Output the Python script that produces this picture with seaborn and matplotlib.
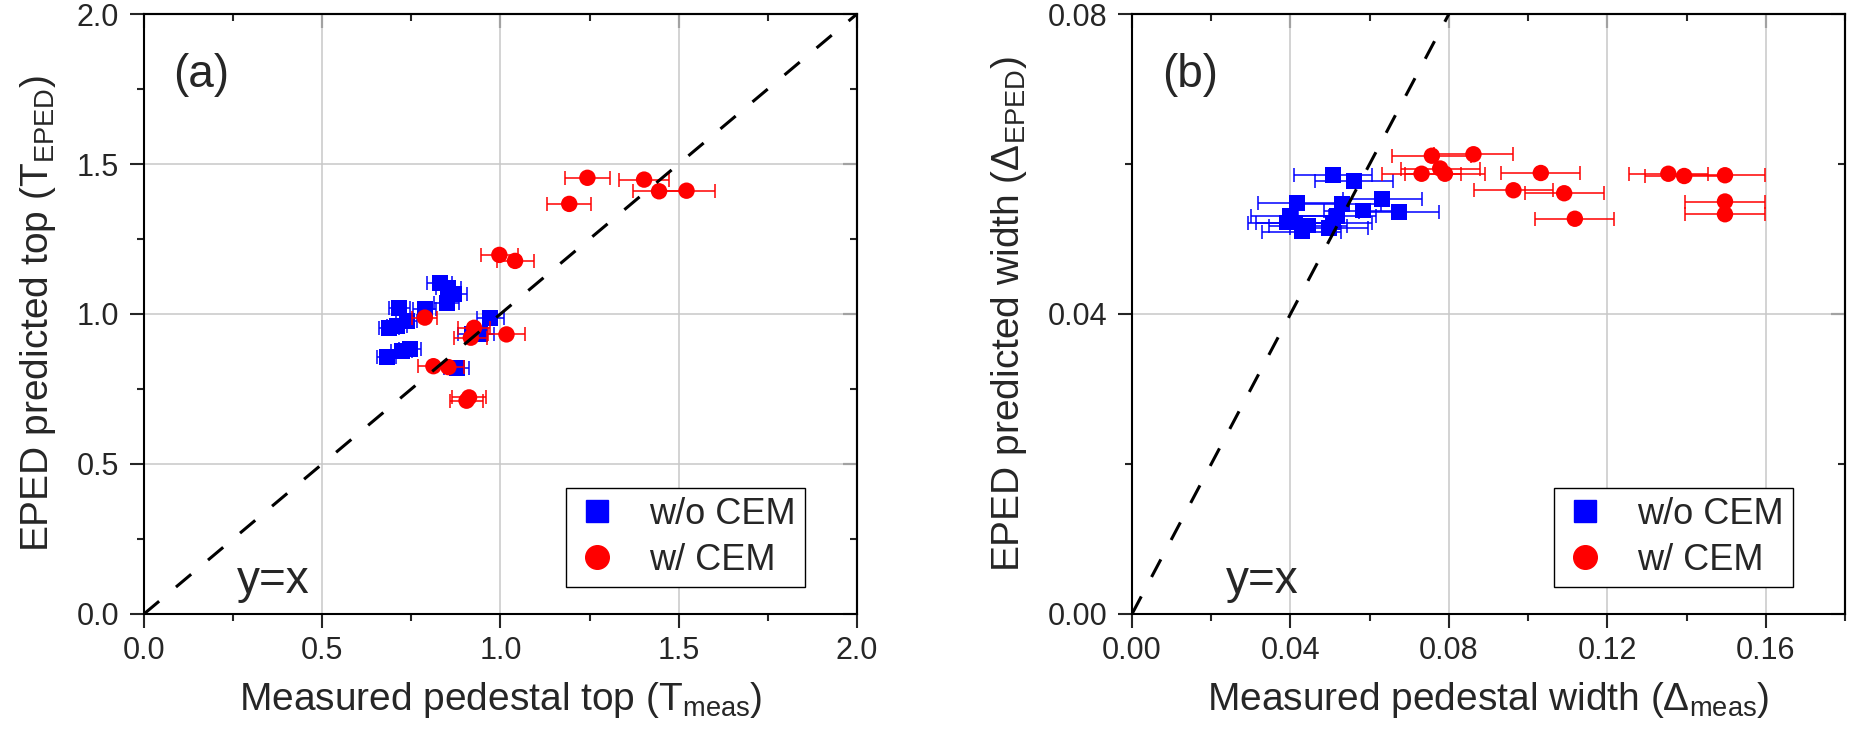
import numpy as np
import pandas as pd
import matplotlib
matplotlib.use("Agg")
import matplotlib.pyplot as plt
import seaborn as sns
from matplotlib.lines import Line2D
from matplotlib.ticker import MultipleLocator, NullFormatter, FormatStrFormatter

# ---------------- data ----------------
# Panel (a): pedestal top
a_wo_x = [0.830, 0.854, 0.870, 0.849, 0.788, 0.716, 0.737, 0.688, 0.709, 0.681, 0.723, 0.746, 0.877, 0.972, 0.919, 0.943]
a_wo_y = [1.103, 1.088, 1.066, 1.038, 1.016, 1.019, 0.977, 0.954, 0.960, 0.856, 0.876, 0.882, 0.820, 0.988, 0.932, 0.932]
a_wo_xerr = [0.035, 0.035, 0.035, 0.034, 0.032, 0.029, 0.030, 0.028, 0.028, 0.027, 0.029, 0.030, 0.035, 0.039, 0.037, 0.038]

a_w_x = [1.244, 1.403, 1.445, 1.522, 1.193, 0.997, 1.041, 0.788, 0.926, 0.917, 1.017, 0.812, 0.854, 0.905, 0.912]
a_w_y = [1.454, 1.448, 1.409, 1.411, 1.367, 1.197, 1.177, 0.988, 0.954, 0.921, 0.932, 0.826, 0.823, 0.711, 0.722]
a_w_xerr = [0.062, 0.070, 0.072, 0.080, 0.061, 0.052, 0.052, 0.035, 0.046, 0.046, 0.052, 0.042, 0.044, 0.047, 0.047]

# Panel (b): pedestal width
b_wo_x = [0.0508, 0.0560, 0.0632, 0.0584, 0.0674, 0.0416, 0.0529, 0.0399, 0.0412, 0.0445, 0.0428, 0.0517, 0.0498, 0.0391, 0.0507]
b_wo_y = [0.0585, 0.0577, 0.0553, 0.0538, 0.0536, 0.0548, 0.0547, 0.0531, 0.0522, 0.0518, 0.0510, 0.0531, 0.0515, 0.0522, 0.0522]
b_wo_xerr = [0.0099, 0.0099, 0.0100, 0.0100, 0.0100, 0.0099, 0.0099, 0.0099, 0.0099, 0.0099, 0.0099, 0.0099, 0.0099, 0.0099, 0.0099]

b_w_x = [0.0757, 0.0862, 0.0731, 0.0778, 0.0790, 0.1032, 0.0963, 0.1091, 0.1118, 0.1354, 0.1394, 0.1497, 0.1497, 0.1497]
b_w_y = [0.0611, 0.0613, 0.0587, 0.0594, 0.0587, 0.0588, 0.0565, 0.0561, 0.0527, 0.0587, 0.0584, 0.0585, 0.0550, 0.0533]
b_w_xerr = [0.0100, 0.0100, 0.0100, 0.0100, 0.0100, 0.0100, 0.0100, 0.0100, 0.0100, 0.0100, 0.0100, 0.0100, 0.0100, 0.0100]

legend_labels = ["w/o CEM", "w/ CEM"]
panel_tags = ["(a)", "(b)"]
a_xlabel = "Measured pedestal top (T$_{\\mathregular{meas}}$)"
a_ylabel = "EPED predicted top (T$_{\\mathregular{EPED}}$)"
b_xlabel = "Measured pedestal width (\u0394$_{\\mathregular{meas}}$)"
b_ylabel = "EPED predicted width (\u0394$_{\\mathregular{EPED}}$)"

# ---------------- style ----------------
sns.set_style("white")
plt.rcParams['font.family'] = ['Liberation Sans', 'DejaVu Sans']
plt.rcParams['mathtext.fontset'] = 'custom'
plt.rcParams['mathtext.rm'] = 'Liberation Sans'
plt.rcParams['mathtext.it'] = 'Liberation Sans'
plt.rcParams['mathtext.bf'] = 'Liberation Sans'

BLUE = "#0000FF"
RED = "#FF0000"

fig = plt.figure(figsize=(18.5, 7.41), dpi=100)
ax_a = fig.add_axes([0.0778, 0.1714, 0.3854, 0.8097])
ax_b = fig.add_axes([0.6119, 0.1714, 0.3854, 0.8097])


def draw_panel(ax, wo_x, wo_y, wo_err, w_x, w_y, w_err, lim, major, minor,
               xlabel, ylabel, tag, fmt):
    ax.errorbar(wo_x, wo_y, xerr=wo_err, fmt='none', ecolor=BLUE,
                elinewidth=1.1, capsize=4.7, capthick=1.1, zorder=2)
    sns.scatterplot(x=wo_x, y=wo_y, marker='s', color=BLUE, s=11.5 ** 2,
                    edgecolor='none', linewidth=0, ax=ax, zorder=3, legend=False)
    ax.errorbar(w_x, w_y, xerr=w_err, fmt='none', ecolor=RED,
                elinewidth=1.1, capsize=4.7, capthick=1.1, zorder=4)
    sns.scatterplot(x=w_x, y=w_y, marker='o', color=RED, s=11.8 ** 2,
                    edgecolor='none', linewidth=0, ax=ax, zorder=5, legend=False)

    ax.axline((0, 0), slope=1, color='black', linewidth=2.2,
              dashes=(6.5, 7.2), zorder=6)

    ax.set_xlim(lim)
    ax.set_ylim(lim)
    for axis in (ax.xaxis, ax.yaxis):
        axis.set_major_locator(MultipleLocator(major))
        axis.set_minor_locator(MultipleLocator(minor))
        axis.set_major_formatter(FormatStrFormatter(fmt))
    ax.grid(True, which='major', color='#c8c8c8', linewidth=1.1, zorder=0)
    ax.set_axisbelow(True)

    ax.tick_params(which='major', direction='out', length=10, width=1.5,
                   labelsize=22, bottom=True, left=True, top=False, right=False)
    ax.tick_params(axis='x', which='major', pad=6)
    ax.tick_params(axis='y', which='major', pad=8)
    ax.tick_params(which='minor', direction='out', length=5, width=1.5,
                   bottom=True, left=True, top=False, right=False)
    for sp in ax.spines.values():
        sp.set_linewidth(1.5)
        sp.set_color('black')
        sp.set_visible(True)

    secx = ax.secondary_xaxis('top')
    secy = ax.secondary_yaxis('right')
    for sec, axis in ((secx, secx.xaxis), (secy, secy.yaxis)):
        axis.set_major_locator(MultipleLocator(major))
        axis.set_minor_locator(MultipleLocator(minor))
        axis.set_major_formatter(NullFormatter())
        sec.tick_params(which='major', direction='in', length=10, width=1.5)
        sec.tick_params(which='minor', direction='in', length=5, width=1.5)
        for sp in sec.spines.values():
            sp.set_linewidth(1.5)

    ax.set_xlabel(xlabel, fontsize=28, labelpad=10)
    ax.set_ylabel(ylabel, fontsize=28, labelpad=13)

    ax.text(0.081, 0.898, tag, transform=ax.transAxes, fontsize=33,
            ha='center', va='center')
    ax.text(0.182, 0.055, "y=x", transform=ax.transAxes, fontsize=33,
            ha='center', va='center')

    handles = [
        Line2D([], [], marker='s', color=BLUE, linestyle='none', markersize=16),
        Line2D([], [], marker='o', color=RED, linestyle='none', markersize=17),
    ]
    leg = ax.legend(handles, legend_labels, loc='lower right',
                    bbox_to_anchor=(0.927, 0.045), fontsize=26, frameon=True,
                    fancybox=False, edgecolor='black', framealpha=1,
                    borderpad=0.25, handlelength=1.2, handletextpad=0.85,
                    labelspacing=0.3, borderaxespad=0)
    leg.get_frame().set_linewidth(1.0)


draw_panel(ax_a, a_wo_x, a_wo_y, a_wo_xerr, a_w_x, a_w_y, a_w_xerr,
           (0, 2.0), 0.5, 0.25, a_xlabel, a_ylabel, panel_tags[0], '%.1f')
draw_panel(ax_b, b_wo_x, b_wo_y, b_wo_xerr, b_w_x, b_w_y, b_w_xerr,
           (0, 0.08), 0.04, 0.02, b_xlabel, b_ylabel, panel_tags[1], '%.2f')
ax_b.set_xlim(0, 0.18)

fig.savefig("out.png", dpi=100)
